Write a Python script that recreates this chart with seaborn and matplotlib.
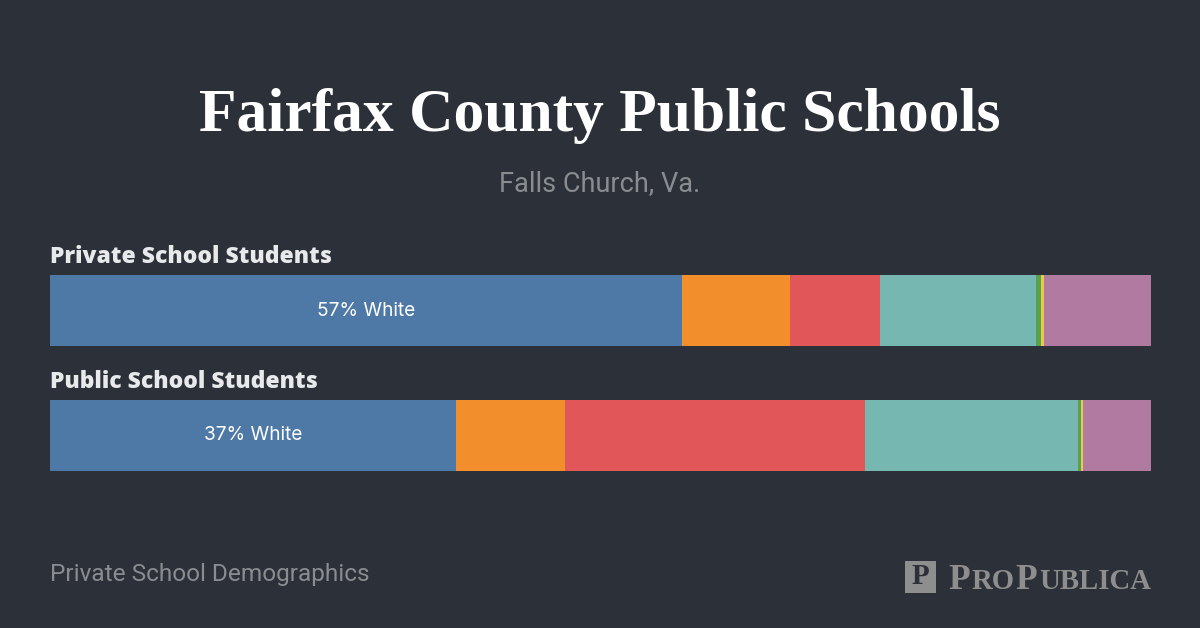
import matplotlib
matplotlib.use("Agg")
import matplotlib.pyplot as plt
import seaborn as sns
import pandas as pd
import numpy as np
from matplotlib.patches import Rectangle

groups = ["Private School Students", "Public School Students"]
segments = ["White", "Asian", "Hispanic", "Black", "Native American", "Pacific Islander", "Two or more races"]
private_vals = [57.4, 9.8, 8.2, 14.2, 0.45, 0.27, 9.7]
public_vals = [36.9, 9.9, 27.3, 19.3, 0.27, 0.18, 6.2]
white_labels = ["57% White", "37% White"]
colors = ["#4e79a7", "#f28e2b", "#e15759", "#76b7b2", "#59a14f", "#edc948", "#b07aa1"]

BG = "#2c3038"
sns.set_theme(style="white")
plt.rcParams["font.family"] = ["DejaVu Sans"]

fig = plt.figure(figsize=(12, 6.28), dpi=100)
fig.patch.set_facecolor(BG)

ax = fig.add_axes([50/1200, 1 - 498/628, 1101/1200, 250/628])
ax.set_facecolor(BG)

vals = np.array([private_vals, public_vals])
total = vals.sum(axis=1)
cum = np.cumsum(vals, axis=1)
# draw cumulative bars from last to first so each segment shows
for k in range(len(segments) - 1, -1, -1):
    df = pd.DataFrame({"group": groups, "value": cum[:, k]})
    sns.barplot(data=df, y="group", x="value", orient="h", color=colors[k],
                width=71/125, ax=ax, saturation=1, linewidth=0)

ax.set_xlim(0, total.max())
ax.set_ylim(1.5, -0.5)
ax.set_axis_off()

for i, lab in enumerate(white_labels):
    ax.text(vals[i, 0] / 2, i, lab, ha="center", va="center", color="white",
            fontsize=13.7, family=["Inter", "DejaVu Sans"])

# group labels
for i, g in enumerate(groups):
    fig.text(50/1200, 1 - (257 + 125 * i)/628, g, ha="left", va="center", color="#e8e9ea",
             fontsize=16.5, fontweight="extra bold", family=["Open Sans", "DejaVu Sans"])

# title
fig.text(0.5, 1 - 116/628, "Fairfax County Public Schools", ha="center", va="center",
         color="white", fontsize=44.3, fontweight="bold", family=["Liberation Serif", "DejaVu Serif"])
fig.text(0.5, 1 - 184/628, "Falls Church, Va.", ha="center", va="center",
         color="#8a8c90", fontsize=19.5, family=["Roboto", "DejaVu Sans"])

# footer
fig.text(50/1200, 1 - 575/628, "Private School Demographics", ha="left", va="center",
         color="#8a8c90", fontsize=17.6, family=["Roboto", "DejaVu Sans"])

logo_color = "#8e8e8e"
fig.patches.append(Rectangle((905/1200, 1 - 593/628), 31/1200, 32/628,
                             transform=fig.transFigure, facecolor=logo_color, edgecolor="none"))
fig.text(920/1200, 1 - 577/628, "P", ha="center", va="center", color=BG,
         fontsize=21, fontweight="bold", family=["Liberation Serif", "DejaVu Serif"])

# small-caps wordmark built piecewise
parts = [("P", 25.5), ("RO", 20.7), ("P", 25.5), ("UBLICA", 20.7)]
renderer = fig.canvas.get_renderer()
x = 948
for txt, size in parts:
    t = fig.text(x/1200, 1 - 589/628, txt, ha="left", va="baseline", color=logo_color,
                 fontsize=size, fontweight="bold", family=["Liberation Serif", "DejaVu Serif"])
    bb = t.get_window_extent(renderer=renderer)
    x += bb.width + 1.5

fig.savefig("out.png", dpi=100, facecolor=BG)
